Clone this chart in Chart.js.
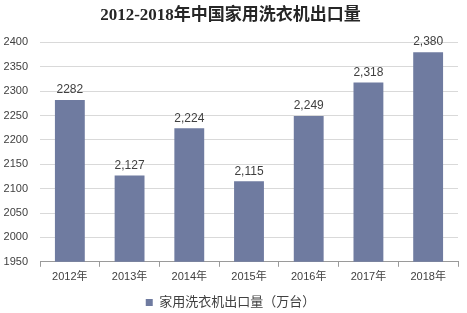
<!DOCTYPE html>
<html>
<head>
<meta charset="utf-8">
<script src="https://cdn.jsdelivr.net/npm/chart.js@4"></script>
<style>
  html, body { margin: 0; padding: 0; background: #fff; }
  #wrap { width: 467px; height: 313px; }
</style>
</head>
<body>
<div id="wrap"><canvas id="chart"></canvas></div>
<script>
// 2012-2018 China household washing machine exports (10k units)
const years = ['2012年', '2013年', '2014年', '2015年', '2016年', '2017年', '2018年'];
const exports = [2282, 2127, 2224, 2115, 2249, 2318, 2380];
const valueLabels = ['2282', '2,127', '2,224', '2,115', '2,249', '2,318', '2,380'];
const yTicks = [1950, 2000, 2050, 2100, 2150, 2200, 2250, 2300, 2350, 2400];

const SANS = "'Liberation Sans', 'Noto Sans CJK SC', sans-serif";

// draws the value text above each bar
const barLabels = {
  id: 'barLabels',
  afterDatasetsDraw(chart) {
    const { ctx } = chart;
    const meta = chart.getDatasetMeta(0);
    ctx.save();
    ctx.font = '12px ' + SANS;
    ctx.fillStyle = '#404040';
    ctx.textAlign = 'center';
    ctx.textBaseline = 'bottom';
    meta.data.forEach((bar, i) => {
      ctx.fillText(valueLabels[i], bar.x, bar.y - 4);
    });
    ctx.restore();
  }
};

new Chart(document.getElementById('chart'), {
  type: 'bar',
  data: {
    labels: years,
    datasets: [{
      label: '家用洗衣机出口量（万台）',
      data: exports,
      backgroundColor: '#6f7ba0',
      barPercentage: 0.5,
      categoryPercentage: 1.0
    }]
  },
  options: {
    responsive: true,
    maintainAspectRatio: false,
    animation: false,
    layout: { padding: { left: 3, right: 9, top: 0, bottom: -6 } },
    plugins: {
      title: {
        display: true,
        text: '2012-2018年中国家用洗衣机出口量',
        color: '#262626',
        font: { family: "'Liberation Serif', 'Noto Sans CJK SC', serif", size: 17, weight: 'bold' },
        padding: { top: 5, bottom: 17 }
      },
      legend: {
        position: 'bottom',
        labels: {
          color: '#404040',
          boxWidth: 7,
          boxHeight: 7,
          padding: 2,
          font: { family: SANS, size: 13 }
        }
      },
      tooltip: { enabled: false }
    },
    scales: {
      x: {
        grid: { display: true, drawOnChartArea: false, offset: true, tickLength: 5, color: '#9a9a9a' },
        border: { color: '#9a9a9a' },
        ticks: { color: '#404040', font: { family: SANS, size: 11 }, padding: 4 },
        afterFit(axis) { axis.height += 6; }
      },
      y: {
        min: 1950,
        max: 2400,
        afterBuildTicks(axis) { axis.ticks = yTicks.map(v => ({ value: v })); },
        afterFit(axis) { axis.width = 37; },
        grid: { color: '#d9d9d9', tickLength: 0, drawTicks: false },
        border: { display: false },
        ticks: {
          color: '#404040',
          font: { family: SANS, size: 11 },
          padding: 12,
          callback: v => String(v)
        }
      }
    }
  },
  plugins: [barLabels]
});
</script>
</body>
</html>
